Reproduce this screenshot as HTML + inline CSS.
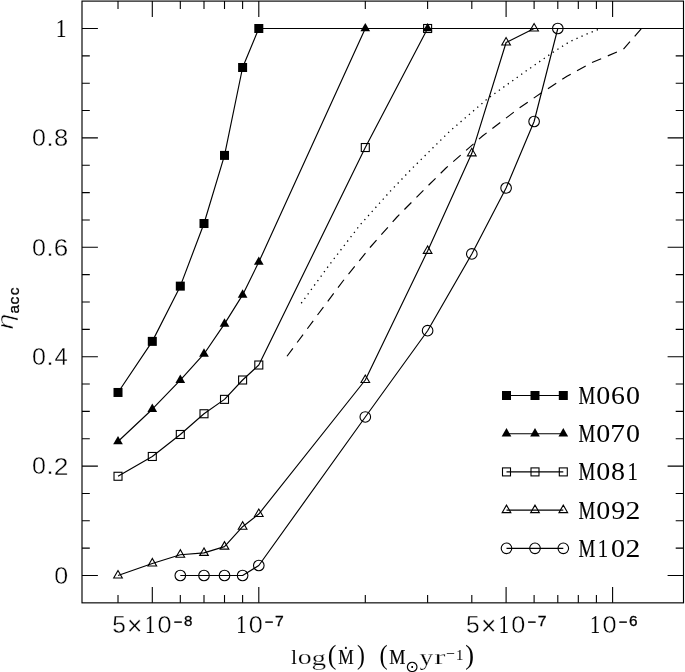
<!DOCTYPE html>
<html lang="en"><head><meta charset="utf-8"><title>eta_acc vs log(Mdot)</title>
<style>
html,body{margin:0;padding:0;background:#fff;}
body{width:685px;height:672px;overflow:hidden;}
svg{display:block;}
.ln{fill:none;stroke:#000;stroke-width:1.15;stroke-linecap:butt;stroke-linejoin:round;}
.ax{fill:none;stroke:#000;stroke-width:1.15;stroke-linecap:square;}
.tk{fill:none;stroke:#000;stroke-width:1.1;}
.mf{fill:#000;stroke:none;}
.mo{fill:none;stroke:#000;stroke-width:1.1;}
text{fill:#000;}
.a{font-family:"Liberation Sans",sans-serif;}
.s{font-family:"Liberation Serif",serif;}
.i{font-family:"Liberation Serif",serif;font-style:italic;}
.d{font-family:"DejaVu Sans","Liberation Sans",sans-serif;}
.e{stroke:#fff;stroke-width:.36px;paint-order:fill stroke;}
.e2{stroke:#fff;stroke-width:.35px;paint-order:fill stroke;}
.b{stroke:#000;stroke-width:.3px;}
.e3{stroke:#fff;stroke-width:.25px;paint-order:fill stroke;}
.ai{font-family:"Liberation Sans",sans-serif;font-style:italic;}
.e4{stroke:#fff;stroke-width:.5px;paint-order:fill stroke;}
.b2{stroke:#000;stroke-width:.2px;}
</style></head><body>
<svg width="685" height="672" viewBox="0 0 685 672">
<rect x="0" y="0" width="685" height="672" fill="#fff"/>
<polyline class="ln" points="118.01,392.47 152.30,341.38 180.31,286.14 204.00,223.51 224.51,155.40 242.61,67.50 258.80,28.50 683.50,28.50"/>
<polyline class="ln" points="118.01,441.49 152.30,409.21 180.31,380.22 204.00,353.96 224.51,323.88 242.61,294.89 258.80,262.07 365.30,28.50 427.61,28.50"/>
<polyline class="ln" points="118.01,476.27 152.30,456.47 180.31,434.48 204.00,413.75 224.51,399.37 242.61,380.00 258.80,365.01 365.30,147.53 427.61,28.50"/>
<polyline class="ln" points="118.01,575.50 152.30,563.47 180.31,554.71 204.00,552.91 224.51,546.62 242.61,526.71 258.80,514.02 365.30,380.00 427.61,250.91 471.81,153.33 506.10,42.50 534.11,28.50"/>
<polyline class="ln" points="180.31,575.50 204.00,575.50 224.51,575.50 242.61,575.50 258.80,565.49 365.30,416.98 427.61,330.72 471.81,253.97 506.10,188.01 534.11,121.49 557.80,28.50"/>
<polyline class="ln" style="stroke-dasharray:1.3 4.2;stroke-width:1.3" points="301.25,303.25 330.00,264.00 360.00,225.00 390.00,191.50 412.50,168.00 450.00,131.00 487.50,98.75 525.00,71.75 552.00,53.00 569.50,41.75 584.50,35.00 600.50,28.60"/>
<polyline class="ln" style="stroke-dasharray:9.9 7.2" points="287.00,356.25 317.50,315.00 343.00,281.00 370.00,247.50 397.00,217.00 423.75,190.00 446.00,168.00 482.50,136.00 520.00,107.50 542.00,92.50 567.00,76.25 592.00,62.50 623.30,49.40 641.40,28.50"/>
<rect class="mf" x="113.51" y="387.97" width="9.0" height="9.0"/>
<rect class="mf" x="147.80" y="336.88" width="9.0" height="9.0"/>
<rect class="mf" x="175.81" y="281.64" width="9.0" height="9.0"/>
<rect class="mf" x="199.50" y="219.01" width="9.0" height="9.0"/>
<rect class="mf" x="220.01" y="150.90" width="9.0" height="9.0"/>
<rect class="mf" x="238.11" y="63.00" width="9.0" height="9.0"/>
<rect class="mf" x="254.30" y="24.00" width="9.0" height="9.0"/>
<polygon class="mf" points="118.01,435.88 113.16,444.29 122.86,444.29"/>
<polygon class="mf" points="152.30,403.61 147.45,412.01 157.15,412.01"/>
<polygon class="mf" points="180.31,374.62 175.46,383.02 185.16,383.02"/>
<polygon class="mf" points="204.00,348.36 199.15,356.76 208.85,356.76"/>
<polygon class="mf" points="224.51,318.28 219.66,326.68 229.36,326.68"/>
<polygon class="mf" points="242.61,289.29 237.76,297.69 247.46,297.69"/>
<polygon class="mf" points="258.80,256.47 253.95,264.87 263.65,264.87"/>
<polygon class="mf" points="365.30,22.90 360.45,31.30 370.15,31.30"/>
<polygon class="mf" points="427.61,22.90 422.76,31.30 432.46,31.30"/>
<rect class="mo" x="114.01" y="472.27" width="8.0" height="8.0"/>
<rect class="mo" x="148.30" y="452.47" width="8.0" height="8.0"/>
<rect class="mo" x="176.31" y="430.48" width="8.0" height="8.0"/>
<rect class="mo" x="200.00" y="409.75" width="8.0" height="8.0"/>
<rect class="mo" x="220.51" y="395.37" width="8.0" height="8.0"/>
<rect class="mo" x="238.61" y="376.00" width="8.0" height="8.0"/>
<rect class="mo" x="254.80" y="361.01" width="8.0" height="8.0"/>
<rect class="mo" x="361.30" y="143.53" width="8.0" height="8.0"/>
<rect class="mo" x="423.61" y="24.50" width="8.0" height="8.0"/>
<polygon class="mo" points="118.01,570.50 113.68,578.00 122.34,578.00"/>
<polygon class="mo" points="152.30,558.47 147.97,565.97 156.63,565.97"/>
<polygon class="mo" points="180.31,549.71 175.98,557.21 184.64,557.21"/>
<polygon class="mo" points="204.00,547.91 199.67,555.41 208.33,555.41"/>
<polygon class="mo" points="224.51,541.62 220.18,549.12 228.84,549.12"/>
<polygon class="mo" points="242.61,521.71 238.28,529.21 246.94,529.21"/>
<polygon class="mo" points="258.80,509.02 254.47,516.52 263.13,516.52"/>
<polygon class="mo" points="365.30,375.00 360.97,382.50 369.63,382.50"/>
<polygon class="mo" points="427.61,245.91 423.28,253.41 431.94,253.41"/>
<polygon class="mo" points="471.81,148.33 467.48,155.83 476.14,155.83"/>
<polygon class="mo" points="506.10,37.50 501.77,45.00 510.43,45.00"/>
<polygon class="mo" points="534.11,23.50 529.78,31.00 538.44,31.00"/>
<circle class="mo" cx="180.31" cy="575.50" r="5.3"/>
<circle class="mo" cx="204.00" cy="575.50" r="5.3"/>
<circle class="mo" cx="224.51" cy="575.50" r="5.3"/>
<circle class="mo" cx="242.61" cy="575.50" r="5.3"/>
<circle class="mo" cx="258.80" cy="565.49" r="5.3"/>
<circle class="mo" cx="365.30" cy="416.98" r="5.3"/>
<circle class="mo" cx="427.61" cy="330.72" r="5.3"/>
<circle class="mo" cx="471.81" cy="253.97" r="5.3"/>
<circle class="mo" cx="506.10" cy="188.01" r="5.3"/>
<circle class="mo" cx="534.11" cy="121.49" r="5.3"/>
<circle class="mo" cx="557.80" cy="28.50" r="5.3"/>
<line class="ln" x1="506.5" y1="395.5" x2="563.3" y2="395.5"/>
<rect class="mf" x="502.00" y="391.00" width="9.0" height="9.0"/>
<rect class="mf" x="530.50" y="391.00" width="9.0" height="9.0"/>
<rect class="mf" x="558.80" y="391.00" width="9.0" height="9.0"/>
<line class="ln" x1="506.5" y1="433.7" x2="563.3" y2="433.7"/>
<polygon class="mf" points="506.50,428.10 501.65,436.50 511.35,436.50"/>
<polygon class="mf" points="535.00,428.10 530.15,436.50 539.85,436.50"/>
<polygon class="mf" points="563.30,428.10 558.45,436.50 568.15,436.50"/>
<line class="ln" x1="506.5" y1="471.9" x2="563.3" y2="471.9"/>
<rect class="mo" x="502.50" y="467.90" width="8.0" height="8.0"/>
<rect class="mo" x="531.00" y="467.90" width="8.0" height="8.0"/>
<rect class="mo" x="559.30" y="467.90" width="8.0" height="8.0"/>
<line class="ln" x1="506.5" y1="510.1" x2="563.3" y2="510.1"/>
<polygon class="mo" points="506.50,505.10 502.17,512.60 510.83,512.60"/>
<polygon class="mo" points="535.00,505.10 530.67,512.60 539.33,512.60"/>
<polygon class="mo" points="563.30,505.10 558.97,512.60 567.63,512.60"/>
<line class="ln" x1="506.5" y1="548.3" x2="563.3" y2="548.3"/>
<circle class="mo" cx="506.50" cy="548.30" r="5.3"/>
<circle class="mo" cx="535.00" cy="548.30" r="5.3"/>
<circle class="mo" cx="563.30" cy="548.30" r="5.3"/>
<rect class="ax" x="82.0" y="1.1" width="601.50" height="601.75"/>
<path class="tk" d="M118.01,602.85v-7.8M118.01,1.1v7.8M152.30,602.85v-15.9M152.30,1.1v15.9M180.31,602.85v-7.8M180.31,1.1v7.8M204.00,602.85v-7.8M204.00,1.1v7.8M224.51,602.85v-7.8M224.51,1.1v7.8M242.61,602.85v-7.8M242.61,1.1v7.8M258.80,602.85v-15.9M258.80,1.1v15.9M365.30,602.85v-7.8M365.30,1.1v7.8M427.61,602.85v-7.8M427.61,1.1v7.8M471.81,602.85v-7.8M471.81,1.1v7.8M506.10,602.85v-15.9M506.10,1.1v15.9M534.11,602.85v-7.8M534.11,1.1v7.8M557.80,602.85v-7.8M557.80,1.1v7.8M578.31,602.85v-7.8M578.31,1.1v7.8M596.41,602.85v-7.8M596.41,1.1v7.8M612.60,602.85v-15.9M612.60,1.1v15.9M82.0,575.50h15.9M683.5,575.50h-15.9M82.0,548.15h7.8M683.5,548.15h-7.8M82.0,520.80h7.8M683.5,520.80h-7.8M82.0,493.45h7.8M683.5,493.45h-7.8M82.0,466.10h15.9M683.5,466.10h-15.9M82.0,438.75h7.8M683.5,438.75h-7.8M82.0,411.40h7.8M683.5,411.40h-7.8M82.0,384.05h7.8M683.5,384.05h-7.8M82.0,356.70h15.9M683.5,356.70h-15.9M82.0,329.35h7.8M683.5,329.35h-7.8M82.0,302.00h7.8M683.5,302.00h-7.8M82.0,274.65h7.8M683.5,274.65h-7.8M82.0,247.30h15.9M683.5,247.30h-15.9M82.0,219.95h7.8M683.5,219.95h-7.8M82.0,192.60h7.8M683.5,192.60h-7.8M82.0,165.25h7.8M683.5,165.25h-7.8M82.0,137.90h15.9M683.5,137.90h-15.9M82.0,110.55h7.8M683.5,110.55h-7.8M82.0,83.20h7.8M683.5,83.20h-7.8M82.0,55.85h7.8M683.5,55.85h-7.8M82.0,28.50h15.9M683.5,28.50h-15.9"/>
<text><tspan class="s" x="55.71" y="36.70" font-size="25.00" textLength="10.78" lengthAdjust="spacingAndGlyphs">1</tspan></text>
<text><tspan class="a e" x="32.12" y="146.14" font-size="23.97" textLength="13.93" lengthAdjust="spacingAndGlyphs">0</tspan><tspan class="a e" x="46.23" y="146.28" font-size="23.81" textLength="7.49" lengthAdjust="spacingAndGlyphs">.</tspan><tspan class="a e" x="54.03" y="146.14" font-size="23.97" textLength="14.27" lengthAdjust="spacingAndGlyphs">8</tspan></text>
<text><tspan class="a e" x="32.12" y="255.54" font-size="23.97" textLength="13.93" lengthAdjust="spacingAndGlyphs">0</tspan><tspan class="a e" x="46.23" y="255.68" font-size="23.81" textLength="7.49" lengthAdjust="spacingAndGlyphs">.</tspan><tspan class="a e" x="53.82" y="255.54" font-size="23.97" textLength="14.50" lengthAdjust="spacingAndGlyphs">6</tspan></text>
<text><tspan class="a e" x="32.12" y="364.94" font-size="23.97" textLength="13.93" lengthAdjust="spacingAndGlyphs">0</tspan><tspan class="a e" x="46.23" y="365.08" font-size="23.81" textLength="7.49" lengthAdjust="spacingAndGlyphs">.</tspan><tspan class="a e" x="54.58" y="365.18" font-size="24.67" textLength="13.28" lengthAdjust="spacingAndGlyphs">4</tspan></text>
<text><tspan class="a e" x="32.12" y="474.34" font-size="23.97" textLength="13.93" lengthAdjust="spacingAndGlyphs">0</tspan><tspan class="a e" x="46.23" y="474.48" font-size="23.81" textLength="7.49" lengthAdjust="spacingAndGlyphs">.</tspan><tspan class="a e" x="53.79" y="474.58" font-size="24.32" textLength="14.74" lengthAdjust="spacingAndGlyphs">2</tspan></text>
<text><tspan class="a e" x="54.22" y="583.74" font-size="23.97" textLength="13.93" lengthAdjust="spacingAndGlyphs">0</tspan></text>
<text><tspan class="a e" x="112.34" y="632.94" font-size="23.74" textLength="13.65" lengthAdjust="spacingAndGlyphs">5</tspan><tspan class="a e" x="127.09" y="635.14" font-size="26.88" textLength="15.30" lengthAdjust="spacingAndGlyphs">×</tspan><tspan class="s" x="145.01" y="632.80" font-size="24.24" textLength="10.21" lengthAdjust="spacingAndGlyphs">1</tspan><tspan class="a e" x="157.51" y="632.95" font-size="23.41" textLength="14.05" lengthAdjust="spacingAndGlyphs">0</tspan><tspan class="a b" x="173.66" y="626.82" font-size="14.85">−</tspan><tspan class="a b" x="184.06" y="626.26" font-size="14.13" textLength="8.40" lengthAdjust="spacingAndGlyphs">8</tspan></text>
<text><tspan class="s" x="236.21" y="632.80" font-size="24.24" textLength="10.21" lengthAdjust="spacingAndGlyphs">1</tspan><tspan class="a e" x="248.71" y="632.95" font-size="23.41" textLength="14.05" lengthAdjust="spacingAndGlyphs">0</tspan><tspan class="a b" x="264.86" y="626.82" font-size="14.85">−</tspan><tspan class="a b" x="275.08" y="626.40" font-size="14.55" textLength="8.73" lengthAdjust="spacingAndGlyphs">7</tspan></text>
<text><tspan class="a e" x="466.14" y="632.94" font-size="23.74" textLength="13.65" lengthAdjust="spacingAndGlyphs">5</tspan><tspan class="a e" x="480.89" y="635.14" font-size="26.88" textLength="15.30" lengthAdjust="spacingAndGlyphs">×</tspan><tspan class="s" x="498.81" y="632.80" font-size="24.24" textLength="10.21" lengthAdjust="spacingAndGlyphs">1</tspan><tspan class="a e" x="511.31" y="632.95" font-size="23.41" textLength="14.05" lengthAdjust="spacingAndGlyphs">0</tspan><tspan class="a b" x="527.46" y="626.82" font-size="14.85">−</tspan><tspan class="a b" x="537.68" y="626.40" font-size="14.55" textLength="8.73" lengthAdjust="spacingAndGlyphs">7</tspan></text>
<text><tspan class="s" x="590.01" y="632.80" font-size="24.24" textLength="10.21" lengthAdjust="spacingAndGlyphs">1</tspan><tspan class="a e" x="602.51" y="632.95" font-size="23.41" textLength="14.05" lengthAdjust="spacingAndGlyphs">0</tspan><tspan class="a b" x="618.66" y="626.82" font-size="14.85">−</tspan><tspan class="a b" x="628.93" y="626.26" font-size="14.13" textLength="8.54" lengthAdjust="spacingAndGlyphs">6</tspan></text>
<text><tspan class="s b2" x="578.43" y="403.90" font-size="25.34" textLength="16.82" lengthAdjust="spacingAndGlyphs">M</tspan><tspan class="s" x="596.30" y="403.95" font-size="25.19" textLength="14.00" lengthAdjust="spacingAndGlyphs">0</tspan><tspan class="s" x="610.97" y="403.95" font-size="25.28" textLength="13.92" lengthAdjust="spacingAndGlyphs">6</tspan><tspan class="s" x="625.90" y="403.95" font-size="25.19" textLength="14.00" lengthAdjust="spacingAndGlyphs">0</tspan></text>
<text><tspan class="s b2" x="578.43" y="442.10" font-size="25.34" textLength="16.82" lengthAdjust="spacingAndGlyphs">M</tspan><tspan class="s" x="596.30" y="442.15" font-size="25.19" textLength="14.00" lengthAdjust="spacingAndGlyphs">0</tspan><tspan class="s" x="610.24" y="442.40" font-size="25.95" textLength="14.69" lengthAdjust="spacingAndGlyphs">7</tspan><tspan class="s" x="625.90" y="442.15" font-size="25.19" textLength="14.00" lengthAdjust="spacingAndGlyphs">0</tspan></text>
<text><tspan class="s b2" x="578.43" y="480.30" font-size="25.34" textLength="16.82" lengthAdjust="spacingAndGlyphs">M</tspan><tspan class="s" x="596.30" y="480.35" font-size="25.19" textLength="14.00" lengthAdjust="spacingAndGlyphs">0</tspan><tspan class="s" x="611.10" y="480.35" font-size="25.19" textLength="14.00" lengthAdjust="spacingAndGlyphs">8</tspan><tspan class="s" x="627.21" y="480.40" font-size="25.45" textLength="10.78" lengthAdjust="spacingAndGlyphs">1</tspan></text>
<text><tspan class="s b2" x="578.43" y="518.50" font-size="25.34" textLength="16.82" lengthAdjust="spacingAndGlyphs">M</tspan><tspan class="s" x="596.30" y="518.55" font-size="25.19" textLength="14.00" lengthAdjust="spacingAndGlyphs">0</tspan><tspan class="s" x="611.25" y="518.55" font-size="25.28" textLength="13.92" lengthAdjust="spacingAndGlyphs">9</tspan><tspan class="s" x="625.61" y="518.80" font-size="25.66" textLength="14.88" lengthAdjust="spacingAndGlyphs">2</tspan></text>
<text><tspan class="s b2" x="578.43" y="556.70" font-size="25.34" textLength="16.82" lengthAdjust="spacingAndGlyphs">M</tspan><tspan class="s" x="597.61" y="556.80" font-size="25.45" textLength="10.78" lengthAdjust="spacingAndGlyphs">1</tspan><tspan class="s" x="611.10" y="556.75" font-size="25.19" textLength="14.00" lengthAdjust="spacingAndGlyphs">0</tspan><tspan class="s" x="625.61" y="557.00" font-size="25.66" textLength="14.88" lengthAdjust="spacingAndGlyphs">2</tspan></text>
<text><tspan class="s" x="291.20" y="664.00" font-size="21.87" textLength="5.62" lengthAdjust="spacingAndGlyphs">l</tspan><tspan class="s e3" x="297.74" y="664.11" font-size="21.33" textLength="13.93" lengthAdjust="spacingAndGlyphs">o</tspan><tspan class="s e3" x="311.63" y="664.87" font-size="21.16" textLength="14.67" lengthAdjust="spacingAndGlyphs">g</tspan><tspan class="s" x="327.64" y="664.19" font-size="26.89" textLength="8.62" lengthAdjust="spacingAndGlyphs">(</tspan><tspan class="s b2" x="338.28" y="664.00" font-size="21.37" textLength="15.43" lengthAdjust="spacingAndGlyphs">Ṁ</tspan><tspan class="s" x="356.93" y="664.19" font-size="26.89" textLength="7.89" lengthAdjust="spacingAndGlyphs">)</tspan></text>
<text><tspan class="s" x="379.41" y="664.19" font-size="26.89" textLength="8.10" lengthAdjust="spacingAndGlyphs">(</tspan><tspan class="s b2" x="389.15" y="663.90" font-size="21.22" textLength="16.18" lengthAdjust="spacingAndGlyphs">M</tspan><tspan class="d" x="405.29" y="672.26" font-size="16.27" textLength="13.69" lengthAdjust="spacingAndGlyphs">⊙</tspan><tspan class="s e3" x="419.44" y="664.53" font-size="22.73" textLength="13.72" lengthAdjust="spacingAndGlyphs">y</tspan><tspan class="s e3" x="434.21" y="664.12" font-size="21.36" textLength="11.18" lengthAdjust="spacingAndGlyphs">r</tspan><tspan class="s" x="446.10" y="658.69" font-size="15.91">−</tspan><tspan class="s" x="456.01" y="660.10" font-size="14.24" textLength="7.38" lengthAdjust="spacingAndGlyphs">1</tspan><tspan class="s" x="465.14" y="664.19" font-size="26.89" textLength="8.79" lengthAdjust="spacingAndGlyphs">)</tspan></text>
<text transform="translate(0,336) rotate(-90)"><tspan class="ai e4" x="6.55" y="12.49" font-size="21.74" textLength="15.95" lengthAdjust="spacingAndGlyphs">η</tspan><tspan class="a b" x="22.44" y="19.15" font-size="14.70" textLength="8.57" lengthAdjust="spacingAndGlyphs">a</tspan><tspan class="a b" x="31.58" y="19.15" font-size="14.70" textLength="7.85" lengthAdjust="spacingAndGlyphs">c</tspan><tspan class="a b" x="40.74" y="19.15" font-size="14.70" textLength="7.79" lengthAdjust="spacingAndGlyphs">c</tspan></text>
</svg></body></html>
